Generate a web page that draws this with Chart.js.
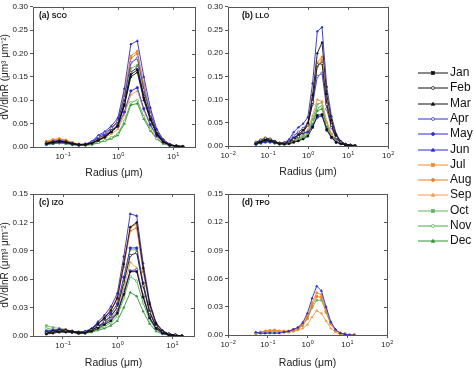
<!DOCTYPE html>
<html>
<head>
<meta charset="utf-8">
<script src="https://cdn.jsdelivr.net/npm/chart.js@4.4.1/dist/chart.umd.min.js"></script>
<style>
html,body{margin:0;padding:0;background:#fff;width:474px;height:368px;overflow:hidden;}
.pnl{position:absolute;}
#legend{position:absolute;left:0;top:0;font-family:'Liberation Sans',Arial,sans-serif;font-size:12px;color:#111;}
.lg{position:absolute;left:418px;height:14px;white-space:nowrap;}
.lg svg{position:absolute;left:0;top:0;}
.lg span{position:absolute;left:32px;top:-1px;}
</style>
</head>
<body>
<div class="pnl" style="left:0;top:0"><canvas id="pa" width="200" height="185"></canvas></div>
<div class="pnl" style="left:195px;top:0"><canvas id="pb" width="200" height="185"></canvas></div>
<div class="pnl" style="left:0;top:185px"><canvas id="pc" width="200" height="183"></canvas></div>
<div class="pnl" style="left:195px;top:185px"><canvas id="pd" width="200" height="183"></canvas></div>
<div id="legend"></div>
<script>
// radius bins (um)
var radius = [0.050,0.066,0.086,0.113,0.148,0.194,0.255,0.335,0.439,0.576,0.756,0.992,1.302,1.708,2.241,2.940,3.857,5.061,6.641,8.713,11.432,15.000];
var months = ['Jan','Feb','Mar','Apr','May','Jun','Jul','Aug','Sep','Oct','Nov','Dec'];

// (a) SCO, Jan..Dec
var sco = [
  [0.007,0.010,0.012,0.010,0.007,0.005,0.005,0.008,0.014,0.021,0.032,0.046,0.090,0.155,0.165,0.105,0.060,0.028,0.011,0.004,0.002,0.001],
  [0.008,0.011,0.013,0.011,0.007,0.005,0.005,0.008,0.015,0.022,0.034,0.048,0.095,0.160,0.170,0.108,0.062,0.029,0.012,0.004,0.002,0.001],
  [0.007,0.010,0.012,0.010,0.007,0.005,0.005,0.008,0.015,0.022,0.033,0.046,0.088,0.150,0.160,0.100,0.058,0.027,0.011,0.004,0.002,0.001],
  [0.008,0.010,0.012,0.010,0.007,0.005,0.006,0.011,0.022,0.030,0.040,0.055,0.105,0.180,0.190,0.122,0.070,0.033,0.013,0.005,0.002,0.001],
  [0.006,0.008,0.010,0.009,0.006,0.004,0.005,0.010,0.020,0.026,0.034,0.044,0.075,0.120,0.127,0.082,0.048,0.024,0.010,0.004,0.001,0.000],
  [0.009,0.012,0.014,0.012,0.008,0.005,0.006,0.012,0.025,0.033,0.045,0.062,0.125,0.220,0.227,0.150,0.084,0.038,0.016,0.006,0.002,0.001],
  [0.012,0.016,0.018,0.015,0.010,0.006,0.006,0.010,0.018,0.026,0.040,0.056,0.115,0.195,0.205,0.135,0.076,0.035,0.015,0.006,0.002,0.001],
  [0.011,0.015,0.017,0.014,0.009,0.006,0.006,0.010,0.018,0.025,0.038,0.054,0.110,0.190,0.200,0.130,0.073,0.034,0.014,0.005,0.002,0.001],
  [0.010,0.013,0.015,0.012,0.008,0.005,0.005,0.008,0.014,0.020,0.028,0.038,0.068,0.112,0.120,0.078,0.045,0.022,0.009,0.004,0.001,0.000],
  [0.007,0.009,0.011,0.009,0.006,0.004,0.005,0.008,0.014,0.020,0.032,0.046,0.095,0.168,0.175,0.112,0.064,0.030,0.012,0.005,0.002,0.001],
  [0.006,0.008,0.009,0.008,0.005,0.004,0.004,0.006,0.010,0.014,0.020,0.028,0.055,0.095,0.100,0.065,0.038,0.018,0.008,0.003,0.001,0.000],
  [0.005,0.007,0.008,0.007,0.005,0.004,0.004,0.005,0.009,0.013,0.018,0.025,0.050,0.090,0.093,0.060,0.035,0.017,0.007,0.003,0.001,0.000]
];

// (b) LLO
var llo = [
  [0.005,0.009,0.012,0.011,0.008,0.005,0.004,0.005,0.008,0.011,0.015,0.021,0.040,0.066,0.068,0.036,0.019,0.008,0.005,0.002,0.001,0.000],
  [0.008,0.013,0.017,0.015,0.010,0.006,0.006,0.008,0.014,0.020,0.030,0.045,0.095,0.175,0.178,0.090,0.045,0.018,0.008,0.003,0.001,0.001],
  [0.006,0.010,0.014,0.013,0.009,0.006,0.006,0.009,0.016,0.024,0.034,0.048,0.110,0.200,0.223,0.112,0.056,0.023,0.009,0.004,0.002,0.001],
  [0.005,0.009,0.012,0.011,0.008,0.005,0.006,0.011,0.022,0.030,0.038,0.048,0.090,0.150,0.157,0.080,0.040,0.016,0.007,0.003,0.001,0.000],
  [0.004,0.007,0.009,0.009,0.007,0.005,0.005,0.009,0.018,0.024,0.028,0.030,0.042,0.062,0.065,0.034,0.018,0.008,0.005,0.002,0.001,0.000],
  [0.004,0.008,0.012,0.012,0.009,0.006,0.007,0.014,0.030,0.040,0.048,0.062,0.135,0.247,0.256,0.128,0.064,0.026,0.010,0.004,0.002,0.001],
  [0.007,0.012,0.016,0.014,0.010,0.006,0.006,0.009,0.017,0.025,0.035,0.050,0.105,0.180,0.192,0.098,0.050,0.020,0.009,0.004,0.002,0.001],
  [0.006,0.011,0.015,0.013,0.009,0.006,0.006,0.009,0.016,0.024,0.034,0.048,0.100,0.172,0.185,0.094,0.047,0.019,0.008,0.003,0.001,0.001],
  [0.006,0.010,0.013,0.012,0.008,0.005,0.005,0.007,0.012,0.018,0.025,0.035,0.065,0.100,0.096,0.052,0.027,0.012,0.006,0.003,0.001,0.000],
  [0.004,0.007,0.009,0.009,0.007,0.005,0.005,0.007,0.011,0.016,0.022,0.030,0.058,0.090,0.094,0.050,0.026,0.011,0.006,0.003,0.001,0.000],
  [0.004,0.006,0.008,0.008,0.006,0.004,0.004,0.006,0.010,0.014,0.020,0.027,0.052,0.082,0.086,0.046,0.024,0.010,0.006,0.003,0.001,0.000],
  [0.005,0.008,0.010,0.009,0.007,0.005,0.004,0.005,0.008,0.012,0.017,0.024,0.048,0.076,0.080,0.043,0.022,0.009,0.005,0.002,0.001,0.000]
];

// (c) IZO
var izo = [
  [0.002,0.003,0.004,0.004,0.004,0.003,0.003,0.005,0.008,0.012,0.016,0.024,0.044,0.068,0.068,0.041,0.019,0.008,0.003,0.001,0.000,0.000],
  [0.003,0.004,0.005,0.005,0.004,0.003,0.004,0.006,0.010,0.015,0.021,0.030,0.056,0.085,0.088,0.053,0.025,0.010,0.004,0.002,0.001,0.000],
  [0.003,0.005,0.006,0.006,0.005,0.004,0.004,0.007,0.013,0.019,0.027,0.040,0.076,0.115,0.120,0.072,0.034,0.013,0.005,0.002,0.001,0.000],
  [0.003,0.004,0.005,0.005,0.004,0.003,0.004,0.006,0.010,0.013,0.018,0.025,0.046,0.069,0.070,0.042,0.020,0.008,0.003,0.001,0.000,0.000],
  [0.005,0.006,0.007,0.006,0.005,0.004,0.004,0.007,0.013,0.018,0.024,0.034,0.062,0.093,0.093,0.056,0.026,0.010,0.004,0.002,0.001,0.000],
  [0.004,0.005,0.006,0.006,0.005,0.004,0.005,0.008,0.015,0.022,0.031,0.045,0.084,0.129,0.127,0.077,0.036,0.014,0.006,0.002,0.001,0.000],
  [0.004,0.006,0.007,0.007,0.005,0.004,0.004,0.007,0.013,0.020,0.028,0.041,0.077,0.115,0.118,0.071,0.033,0.013,0.005,0.002,0.001,0.000],
  [0.004,0.006,0.007,0.006,0.005,0.004,0.004,0.007,0.013,0.019,0.027,0.039,0.073,0.111,0.114,0.068,0.032,0.012,0.005,0.002,0.001,0.000],
  [0.004,0.006,0.007,0.006,0.005,0.004,0.004,0.006,0.010,0.014,0.019,0.027,0.050,0.078,0.072,0.044,0.021,0.009,0.004,0.002,0.001,0.000],
  [0.011,0.009,0.008,0.007,0.005,0.004,0.004,0.006,0.010,0.015,0.021,0.031,0.058,0.091,0.091,0.055,0.026,0.010,0.004,0.002,0.001,0.000],
  [0.008,0.007,0.006,0.005,0.004,0.003,0.003,0.005,0.007,0.010,0.014,0.021,0.040,0.063,0.058,0.035,0.017,0.007,0.003,0.001,0.000,0.000],
  [0.006,0.006,0.005,0.005,0.004,0.003,0.003,0.004,0.006,0.008,0.011,0.016,0.030,0.046,0.042,0.026,0.013,0.005,0.002,0.001,0.000,0.000]
];

// (d) TPO, only some months
var tpo = [
  null, null, null, null, null,
  [0.003,0.002,0.002,0.002,0.002,0.002,0.003,0.004,0.006,0.008,0.013,0.023,0.039,0.052,0.047,0.030,0.014,0.006,0.002,0.001,0.000,0.000],
  [0.002,0.003,0.004,0.005,0.005,0.004,0.004,0.004,0.006,0.008,0.012,0.020,0.034,0.045,0.043,0.027,0.013,0.005,0.002,0.001,0.000,0.000],
  [0.002,0.003,0.004,0.004,0.005,0.004,0.004,0.004,0.005,0.007,0.011,0.018,0.031,0.041,0.040,0.025,0.012,0.005,0.002,0.001,0.000,0.000],
  [0.002,0.003,0.004,0.004,0.004,0.004,0.003,0.003,0.004,0.005,0.007,0.011,0.019,0.026,0.023,0.015,0.007,0.003,0.001,0.000,0.000,0.000],
  [0.001,0.002,0.002,0.003,0.003,0.003,0.003,0.003,0.004,0.006,0.010,0.017,0.029,0.037,0.037,0.024,0.012,0.005,0.002,0.001,0.000,0.000],
  null, null
];

var ticksNarrow = [0.1, 1, 10];
var ticksWide = [0.01, 0.1, 1, 10, 100];

// styles
var lineCol = ['#111','#111','#111','#2a2ad4','#2a2ad4','#2a2ad4','#f08a2a','#f07a1a','#f59a48','#5cb85c','#49ad49','#2f932f'];
var marker = ['rect','circle','triangle','circle','circle','triangle','rect','circle','triangle','rect','circle','triangle'];
var hollow = [false,true,false,true,false,false,false,false,false,false,true,false];

var FONT = "'Liberation Sans', Arial, sans-serif";

var deco = {
    id: 'deco',
    afterDraw: function (chart, args, opts) {
        var ctx = chart.ctx, a = chart.chartArea;
        var xs = chart.scales.x, ys = chart.scales.y;
        ctx.save();
        ctx.strokeStyle = '#555';
        ctx.lineWidth = 1;
        ctx.strokeRect(Math.round(a.left) + 0.5, Math.round(a.top) + 0.5, Math.round(a.right - a.left), Math.round(a.bottom - a.top));
        // inward ticks on top and right
        ctx.beginPath();
        xs.ticks.forEach(function (t) {
            var px = Math.round(xs.getPixelForValue(t.value)) + 0.5;
            ctx.moveTo(px, a.top); ctx.lineTo(px, a.top + 3);
        });
        ys.ticks.forEach(function (t) {
            var py = Math.round(ys.getPixelForValue(t.value)) + 0.5;
            ctx.moveTo(a.right, py); ctx.lineTo(a.right - 3, py);
        });
        ctx.stroke();
        // x tick labels 10^n
        ctx.fillStyle = '#222';
        ctx.textBaseline = 'alphabetic';
        xs.ticks.forEach(function (t) {
            var px = xs.getPixelForValue(t.value);
            var e = String(Math.round(Math.log10(t.value))).replace('-', '\u2212');
            ctx.font = '8px ' + FONT;
            var w1 = ctx.measureText('10').width;
            ctx.font = '5.5px ' + FONT;
            var w2 = ctx.measureText(e).width;
            var x0 = px - (w1 + w2) / 2;
            ctx.font = '8px ' + FONT;
            ctx.textAlign = 'left';
            ctx.fillText('10', x0, a.bottom + 12);
            ctx.font = '5.5px ' + FONT;
            ctx.fillText(e, x0 + w1 + 0.3, a.bottom + 8.5);
        });
        // panel tag
        ctx.fillStyle = '#111';
        ctx.textAlign = 'left';
        ctx.textBaseline = 'middle';
        ctx.font = 'bold 8.5px ' + FONT;
        var tx = a.left + opts.dx;
        ctx.fillText(opts.tag, tx, a.top + 9);
        var tw = ctx.measureText(opts.tag + ' ').width;
        ctx.font = 'bold 7px ' + FONT;
        ctx.fillText(opts.name, tx + tw, a.top + 9.5);
        ctx.restore();
    }
};

function makePanel(id, series, p) {
    var sets = [];
    for (var m = 0; m < months.length; m++) {
        if (!series[m]) continue;
        var vals = series[m];
        sets.push({
            label: months[m],
            data: radius.map(function (r, i) { return {x: r, y: vals[i]}; }),
            borderColor: lineCol[m],
            backgroundColor: hollow[m] ? '#fff' : lineCol[m],
            pointBorderColor: lineCol[m],
            pointStyle: marker[m],
            pointRadius: 1.2,
            pointBorderWidth: 0.7,
            borderWidth: 0.9,
            tension: 0,
            fill: false
        });
    }
    new Chart(document.getElementById(id), {
        type: 'line',
        data: {datasets: sets},
        plugins: [deco],
        options: {
            responsive: false,
            animation: false,
            events: [],
            layout: {padding: {top: p.top, right: p.right, left: 0, bottom: 0}},
            plugins: {
                legend: {display: false},
                tooltip: {enabled: false},
                deco: {tag: p.tag, name: p.name, dx: p.dx}
            },
            scales: {
                x: {
                    type: 'logarithmic',
                    min: p.xmin, max: p.xmax,
                    afterBuildTicks: function (s) { s.ticks = p.xticks.map(function (v) { return {value: v}; }); },
                    afterFit: function (s) { s.height = p.xh; },
                    ticks: {display: false},
                    border: {display: false},
                    grid: {drawOnChartArea: false, drawTicks: true, tickLength: 3, color: '#555'},
                    title: {display: true, text: 'Radius (\u03bcm)', color: '#222',
                        font: {family: FONT, size: 10.5, lineHeight: 1}, padding: {top: 0, bottom: p.tpad}}
                },
                y: {
                    min: 0, max: p.ymax,
                    afterFit: function (s) { s.width = 33; },
                    ticks: {stepSize: p.ystep, color: '#222', padding: 2, font: {family: FONT, size: 8},
                        callback: function (v) { return v.toFixed(2); }},
                    border: {display: false},
                    grid: {drawOnChartArea: false, drawTicks: true, tickLength: 3, color: '#555'},
                    title: {display: p.ytitle, text: 'dV/dlnR (\u03bcm\u00b3 \u03bcm\u207b\u00b2)', color: '#222',
                        font: {family: FONT, size: 10, lineHeight: 1}, padding: {top: 0, bottom: 0}}
                }
            }
        }
    });
}

makePanel('pa', sco, {tag: '(a)', name: 'SCO', dx: 6, top: 4, right: 5, xh: 38, tpad: 7,
    xmin: 0.0285, xmax: 25, xticks: ticksNarrow, ymax: 0.30, ystep: 0.05, ytitle: true});
makePanel('pb', llo, {tag: '(b)', name: 'LLO', dx: 14, top: 4, right: 7, xh: 39, tpad: 8,
    xmin: 0.01, xmax: 100, xticks: ticksWide, ymax: 0.30, ystep: 0.05, ytitle: false});
makePanel('pc', izo, {tag: '(c)', name: 'IZO', dx: 6, top: 9, right: 6, xh: 32, tpad: 0,
    xmin: 0.0285, xmax: 25, xticks: ticksNarrow, ymax: 0.15, ystep: 0.03, ytitle: true});
makePanel('pd', tpo, {tag: '(d)', name: 'TPO', dx: 14, top: 9, right: 8, xh: 33, tpad: 0,
    xmin: 0.01, xmax: 100, xticks: ticksWide, ymax: 0.15, ystep: 0.03, ytitle: false});

// legend
var lg = document.getElementById('legend');
months.forEach(function (m, i) {
    var c = lineCol[i], f = hollow[i] ? '#fff' : c, mk;
    if (marker[i] === 'rect') mk = '<rect x="13.5" y="5.5" width="3" height="3" fill="' + f + '" stroke="' + c + '" stroke-width="0.7"/>';
    else if (marker[i] === 'circle') mk = '<circle cx="15" cy="7" r="1.5" fill="' + f + '" stroke="' + c + '" stroke-width="0.7"/>';
    else mk = '<polygon points="15,5.2 16.8,8.3 13.2,8.3" fill="' + f + '" stroke="' + c + '" stroke-width="0.7"/>';
    var d = document.createElement('div');
    d.className = 'lg';
    d.style.top = (66 + i * 15.3) + 'px';
    d.innerHTML = '<svg width="31" height="14"><line x1="0" y1="7" x2="30" y2="7" stroke="' + c + '" stroke-width="1"/>' + mk + '</svg><span>' + m + '</span>';
    lg.appendChild(d);
});
</script>
</body>
</html>
